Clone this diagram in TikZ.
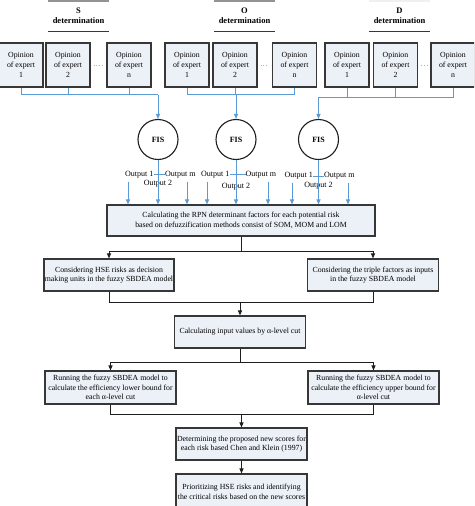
\documentclass[tikz,border=0pt]{standalone}
\usepackage{fontspec}
\setmainfont{Liberation Serif}
\usetikzlibrary{arrows.meta}
\definecolor{bl}{RGB}{91,155,213}
\definecolor{bfill}{RGB}{236,241,247}
\definecolor{bdraw}{RGB}{55,55,55}
\definecolor{blk}{RGB}{30,30,30}
\begin{document}
\begin{tikzpicture}[x=1pt,y=-1pt,
  box/.style={draw=bdraw, line width=1.1pt, fill=bfill, inner sep=0pt, align=center,
              font=\fontsize{7.8}{9.6}\selectfont},
  expbox/.style={box, minimum width=44pt, minimum height=44pt},
  flowbox/.style={box, minimum width=131pt, minimum height=32pt},
  fis/.style={circle, draw=blk, line width=1.1pt, fill=white, minimum size=40pt, inner sep=0pt,
              font=\fontsize{8}{9}\selectfont\bfseries},
  hdr/.style={align=center, inner sep=0pt, minimum width=61pt, minimum height=30pt,
              font=\fontsize{8.5}{10}\selectfont\bfseries},
  hline/.style={draw=bdraw, line width=1pt},
  lbl/.style={inner sep=0pt, font=\fontsize{8}{9}\selectfont},
  bline/.style={draw=bl, line width=1pt},
  barr/.style={draw=bl, line width=1pt, -{Triangle[length=5pt,width=4pt]}},
  kline/.style={draw=blk, line width=1pt},
  karr/.style={draw=blk, line width=1pt, -{Triangle[length=5pt,width=4pt]}},
  dots/.style={draw=bl!70, line width=0.9pt, dotted, shorten <=3pt, shorten >=3pt}
]
\useasboundingbox (0,0) rectangle (474,506);
\clip (0,0) rectangle (474,506);

% headers
\node[hdr] (hs) at (78.5,16) {S\\determination};
\node[hdr] (ho) at (244.5,16) {O\\determination};
\node[hdr] (hd) at (399.5,16) {D\\determination};
\draw[line width=2pt, draw=gray!85] (hs.north west) -- (hs.north east);
\draw[line width=2pt, draw=gray!85] (ho.north west) -- (ho.north east);
\draw[line width=2pt, draw=gray!12] (hd.north west) -- (hd.north east);
\draw[hline] (hs.south west) -- (hs.south east);
\draw[hline] (ho.south west) -- (ho.south east);
\draw[hline] (hd.south west) -- (hd.south east);

% expert boxes
\node[expbox] (e11) at (21,65) {Opinion\\of expert\\1};
\node[expbox] (e12) at (68,65) {Opinion\\of expert\\2};
\node[expbox] (e1n) at (129,65) {Opinion\\of expert\\n};
\node[expbox] (e21) at (187,65) {Opinion\\of expert\\1};
\node[expbox] (e22) at (235,65) {Opinion\\of expert\\2};
\node[expbox] (e2n) at (294.5,65) {Opinion\\of expert\\n};
\node[expbox] (e31) at (347,65) {Opinion\\of expert\\1};
\node[expbox] (e32) at (395.5,65) {Opinion\\of expert\\2};
\node[expbox] (e3n) at (453,65) {Opinion\\of expert\\n};
\draw[dots] (e12.east) -- (e1n.west);
\draw[dots] (e22.east) -- (e2n.west);
\draw[dots] (e32.east) -- (e3n.west);

% FIS
\node[fis] (f1) at (158,139.5) {FIS};
\node[fis] (f2) at (236,139.5) {FIS};
\node[fis] (f3) at (318.5,139.5) {FIS};

% blue joins
\coordinate (j1) at (158,94.5);
\coordinate (j2) at (236,94.5);
\coordinate (j3) at (318.5,97);
\draw[bline] (e11.south) |- (j1);
\draw[bline] (e12.south) -- (e12.south |- j1);
\draw[bline] (e1n.south) -- (e1n.south |- j1);
\draw[barr] (j1) -- (f1.north);
\draw[bline] (e21.south) |- (j2) -| (e2n.south);
\draw[bline] (e22.south) -- (e22.south |- j2);
\draw[barr] (j2) -- (f2.north);
\draw[bline] (j3) -| (e3n.south);
\draw[bline] (e31.south) -- (e31.south |- j3);
\draw[bline] (e32.south) -- (e32.south |- j3);
\draw[barr] (j3) -- (f3.north);

% main box
\node[box, minimum width=268pt, minimum height=31pt] (main) at (241,220.5)
  {Calculating the RPN determinant factors for each potential risk\\based on defuzzification methods consist of SOM, MOM and LOM};

% output labels
\node[lbl, anchor=east] (o11) at (153.5,174.5) {Output 1};
\node[lbl, anchor=west] (o1m) at (165,174.5) {Output m};
\node[lbl] (o12) at (158,183.5) {Output 2};
\node[lbl, anchor=east] (o21) at (229.5,174.5) {Output 1};
\node[lbl, anchor=west] (o2m) at (245.5,174.5) {Output m};
\node[lbl] (o22) at (236,187) {Output 2};
\node[lbl, anchor=east] (o31) at (313,176) {Output 1};
\node[lbl, anchor=west] (o3m) at (324,176) {Output m};
\node[lbl] (o32) at (318.5,186) {Output 2};
\draw[bline] (o11.east) -- (o1m.west);
\draw[bline] (o21.east) -- (o2m.west);
\draw[bline] (o31.east) -- (o3m.west);

\draw[barr] (f1.south) -- (f1.south |- main.north);
\draw[barr] (f2.south) -- (f2.south |- main.north);
\draw[barr] (f3.south) -- (f3.south |- main.north);
\coordinate (a11) at (128,181.5);
\coordinate (a1m) at (187,181.5);
\coordinate (a21) at (207,181.5);
\coordinate (a2m) at (268,181.5);
\coordinate (a31) at (292,182.5);
\coordinate (a3m) at (348,182.5);
\foreach \a in {a11,a1m,a21,a2m,a31,a3m}
  \draw[barr] (\a) -- (\a |- main.north);

% second level
\node[flowbox, minimum width=130pt] (hse) at (109,275) {Considering HSE risks as decision\\making units in the fuzzy SBDEA model};
\node[flowbox] (tri) at (373,275) {Considering the triple factors as inputs\\in the fuzzy SBDEA model};
\coordinate (j4) at (241,251);
\draw[kline] (main.south) -- (j4);
\draw[karr] (j4) -| (hse.north);
\draw[karr] (j4) -| (tri.north);

\node[flowbox] (cut) at (240,332) {Calculating input values by α-level cut};
\coordinate (j5) at (240,302);
\draw[kline] (hse.south) |- (j5);
\draw[kline] (tri.south) |- (j5);
\draw[karr] (j5) -- (cut.north);

\node[flowbox, minimum height=33pt] (runl) at (110.5,387.5) {Running the fuzzy SBDEA model to\\calculate the efficiency lower bound for\\each α-level cut};
\node[flowbox, minimum height=33pt] (runr) at (373.5,387.5) {Running the fuzzy SBDEA model to\\calculate the efficiency upper bound for\\α-level cut};
\coordinate (j6) at (240,362);
\draw[kline] (cut.south) -- (j6);
\draw[karr] (j6) -| (runl.north);
\draw[karr] (j6) -| (runr.north);

\node[flowbox] (det) at (241.5,444) {Determining the proposed new scores for\\each risk based Chen and Klein (1997)};
\coordinate (j7) at (241.5,414);
\draw[kline] (runl.south) |- (j7);
\draw[kline] (runr.south) |- (j7);
\draw[karr] (j7) -- (det.north);

\node[flowbox, minimum height=36pt] (pri) at (241.5,492) {Prioritizing HSE risks and identifying\\the critical risks based on the new scores};
\draw[karr] (det.south) -- (pri.north);
\end{tikzpicture}
\end{document}
